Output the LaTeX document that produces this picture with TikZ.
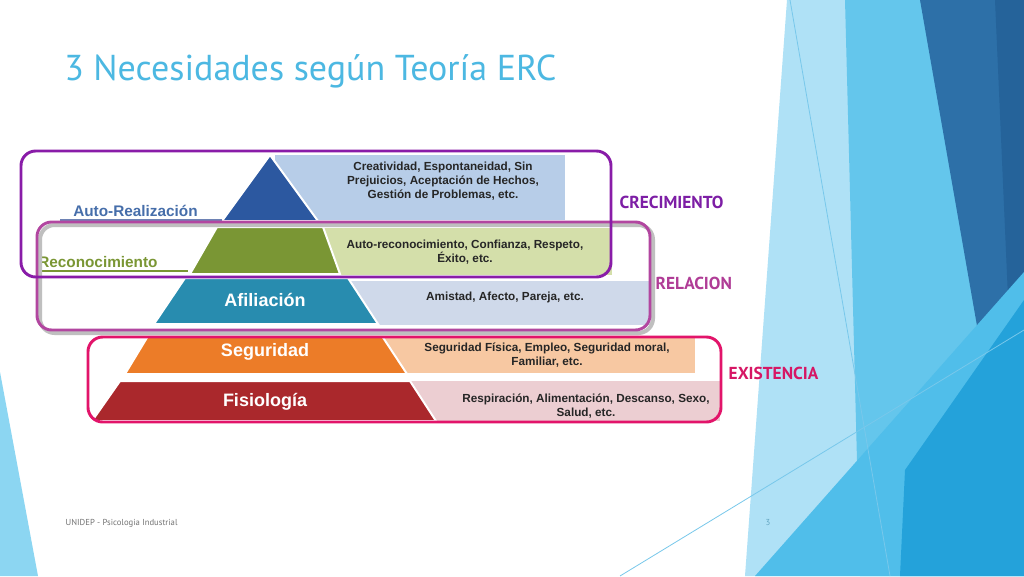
\documentclass[tikz,border=0pt]{standalone}
\usepackage{fontspec}
\setmainfont{Liberation Sans}
\newfontfamily\ptsans{PT Sans}
\begin{document}
\begin{tikzpicture}[x=0.75pt,y=-0.75pt,
  lvl/.style={draw=white,line width=1.5pt},
  desc/.style={font=\bfseries\fontsize{8.8}{10.5}\selectfont,align=center,text=black!85},
  plab/.style={font=\bfseries\fontsize{13.5}{15}\selectfont,text=white},
  grp/.style={rounded corners=11pt,line width=2.2pt},
  glab/.style={font=\ptsans\bfseries\fontsize{13}{15}\selectfont,anchor=west}]
\useasboundingbox (0,0) rectangle (1024,576);
\fill[white] (0,0) rectangle (1024,576);
% background decoration
\fill[color={rgb,255:red,175;green,225;blue,246}] (787,0) -- (1024,0) -- (1024,576) -- (745,576) -- cycle;
\fill[color={rgb,255:red,100;green,198;blue,236}] (845,0) -- (960,0) -- (1024,420) -- (1024,576) -- (860,576) -- cycle;
\fill[color={rgb,255:red,45;green,112;blue,168}] (920,0) -- (1024,0) -- (1024,272) -- (980,343) -- cycle;
\fill[color={rgb,255:red,37;green,99;blue,154}] (995,0) -- (1024,0) -- (1024,272) -- (1008,298) -- cycle;
\fill[color={rgb,255:red,80;green,190;blue,234}] (1024,272) -- (1024,576) -- (755,576) -- cycle;
\fill[color={rgb,255:red,36;green,162;blue,218}] (1024,300) -- (1024,576) -- (900,576) -- (905,470) -- cycle;
\draw[color={rgb,255:red,120;green,200;blue,235},line width=0.6pt] (790,0) -- (890,576);
\draw[color={rgb,255:red,120;green,200;blue,235},line width=0.6pt] (620,576) -- (1024,330);
\fill[color={rgb,255:red,140;green,214;blue,242}] (0,372) -- (38,576) -- (0,576) -- cycle;
% title
\node[anchor=base west,inner sep=0,font=\ptsans\fontsize{27}{30}\selectfont,text={rgb,255:red,76;green,184;blue,226}] (title) at (64,80) {3 Necesidades según Teoría ERC};
% description boxes
\fill[color={rgb,255:red,183;green,205;blue,232}] (275,155) rectangle (565,220);
\fill[color={rgb,255:red,212;green,223;blue,170}] (300,228) rectangle (612,275);
\fill[color={rgb,255:red,207;green,217;blue,234}] (340,281) rectangle (650,325);
\fill[color={rgb,255:red,247;green,200;blue,162}] (380,336) rectangle (695,373);
\fill[color={rgb,255:red,236;green,206;blue,210}] (410,381) rectangle (720,421);
% pyramid
\fill[lvl,fill={rgb,255:red,44;green,88;blue,160}] (270,155) -- (318,221) -- (222,221) -- cycle;
\fill[lvl,fill={rgb,255:red,122;green,150;blue,52}] (217,227) -- (323,227) -- (340,274) -- (190,274) -- cycle;
\fill[lvl,fill={rgb,255:red,40;green,140;blue,175}] (185,278) -- (348,278) -- (378,324) -- (154,324) -- cycle;
\fill[lvl,fill={rgb,255:red,236;green,124;blue,40}] (148,336) -- (382,336) -- (407,374) -- (125,374) -- cycle;
\fill[lvl,fill={rgb,255:red,170;green,40;blue,44}] (120,381) -- (410,381) -- (436,421) -- (92,421) -- cycle;
\draw[white,line width=2pt] (222,222.5) -- (318,222.5) (185,276) -- (348,276) (150,330) -- (382,330) (120,378) -- (410,378);
\node[plab] (afi) at (265,300) {Afiliación};
\node[plab] (seg) at (265,352) {Seguridad};
\node[plab] (fis) at (265,402) {Fisiología};
\node[font=\bfseries\fontsize{11.5}{13}\selectfont,text={rgb,255:red,70;green,110;blue,170},anchor=base west,inner sep=0] (ar) at (73,216) {Auto-Realización};
\draw[color={rgb,255:red,110;green,130;blue,180},line width=2pt] (60,220) -- (222,220);
\node[font=\bfseries\fontsize{11.5}{13}\selectfont,text={rgb,255:red,122;green,150;blue,52},anchor=base west,inner sep=0] (rec) at (38,267) {Reconocimiento};
\draw[color={rgb,255:red,122;green,150;blue,52},line width=2pt] (37,271) -- (188,271);
% descriptions
\node[desc] (d1) at (443,181) {Creatividad, Espontaneidad, Sin\\Prejuicios, Aceptación de Hechos,\\Gestión de Problemas, etc.};
\node[desc] (d2) at (465,252) {Auto-reconocimiento, Confianza, Respeto,\\Éxito, etc.};
\node[desc] (d3) at (505,297) {Amistad, Afecto, Pareja, etc.};
\node[desc] (d4) at (547,355) {Seguridad Física, Empleo, Seguridad moral,\\Familiar, etc.};
\node[desc] (d5) at (586,406) {Respiración, Alimentación, Descanso, Sexo,\\Salud, etc.};
% groups
\draw[grp,draw=black!25,line width=3pt] (40,225) rectangle (653,333);
\draw[grp,draw={rgb,255:red,178;green,70;blue,160}] (37,222) rectangle (650,330);
\draw[grp,draw={rgb,255:red,137;green,28;blue,168}] (21,151) rectangle (611,277);
\draw[grp,draw={rgb,255:red,226;green,20;blue,106}] (88,337) rectangle (721,422);
\node[glab,text={rgb,255:red,125;green,30;blue,165}] (gc) at (615,202) {CRECIMIENTO};
\node[glab,text={rgb,255:red,176;green,60;blue,150}] (gr) at (651,283) {RELACION};
\node[glab,text={rgb,255:red,214;green,22;blue,100}] (ge) at (724,373) {EXISTENCIA};
% footer
\node[anchor=west,font=\ptsans\fontsize{6.5}{8}\selectfont,text=black!55] (foot) at (61,523) {UNIDEP - Psicologia Industrial};
\node[font=\ptsans\fontsize{6.5}{8}\selectfont,text=cyan!50!gray] (num) at (768,523) {3};
\end{tikzpicture}
\end{document}
